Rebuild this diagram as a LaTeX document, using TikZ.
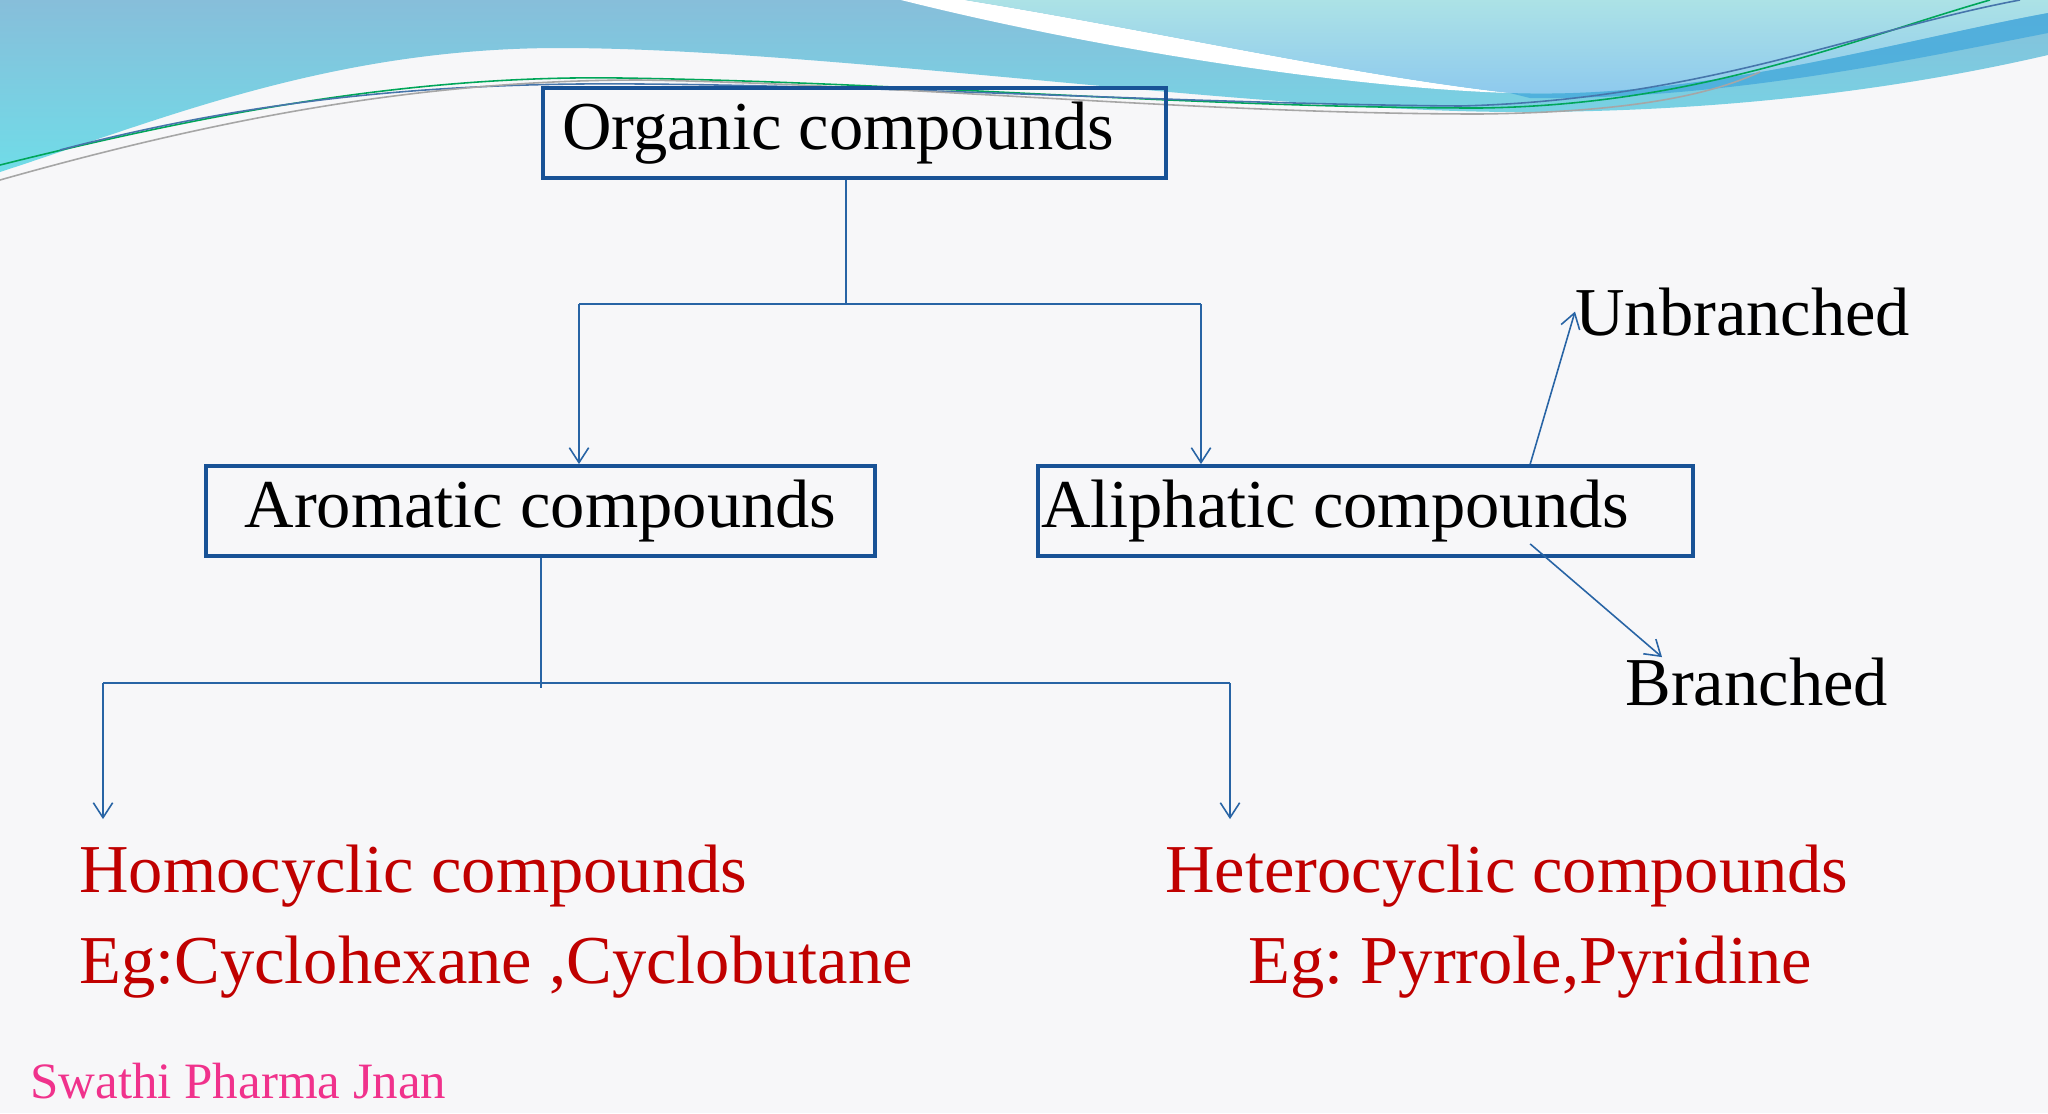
\documentclass[tikz,border=0pt]{standalone}
\usepackage{fontspec}
\setmainfont{Liberation Serif}
\usepackage{xcolor}
\usepackage{tikz}
\usetikzlibrary{arrows.meta, positioning, calc}
\frenchspacing

\definecolor{bgwhite}{RGB}{247,247,249}
\definecolor{boxblue}{RGB}{24,82,150}
\definecolor{lineblue}{RGB}{40,100,165}
\definecolor{darkred}{RGB}{192,0,0}
\definecolor{signpink}{RGB}{240,50,140}
\definecolor{waveA}{RGB}{135,190,218}
\definecolor{waveB}{RGB}{112,220,232}
\definecolor{waveC}{RGB}{172,226,230}
\definecolor{waveD}{RGB}{140,200,238}
\definecolor{waveE}{RGB}{70,170,220}

\tikzset{
  cbox/.style={draw=boxblue, line width=2.2pt, inner sep=0pt, font=\fontsize{39}{47}\selectfont},
  side/.style={inner sep=0pt, font=\fontsize{39}{47}\selectfont},
  redtxt/.style={inner sep=0pt, text=darkred, font=\fontsize{39}{47}\selectfont},
  link/.style={draw=lineblue, line width=0.9pt},
  arr/.style={link, -{Straight Barb[length=8.5pt,width=11pt]}}
}

\begin{document}
\begin{tikzpicture}[x=0.02cm, y=-0.02cm]
    \useasboundingbox (0,0) rectangle (2048,1113);
    \fill[bgwhite] (0,0) rectangle (2048,1113);

    % 顶部波浪
    \shade[top color=waveA, bottom color=waveB] (0,0) -- (0,172)
        .. controls (160,120) and (330,48) .. (560,48)
        .. controls (820,48) and (1250,112) .. (1520,112)
        .. controls (1760,112) and (1940,80) .. (2048,55) -- (2048,0) -- cycle;
    \fill[white] (901,0) .. controls (1100,50) and (1350,88) .. (1510,93)
        .. controls (1350,75) and (1150,30) .. (965,0) -- cycle;
    \shade[top color=waveC, bottom color=waveD] (965,0)
        .. controls (1150,30) and (1350,75) .. (1510,93)
        .. controls (1700,100) and (1900,40) .. (2048,13) -- (2048,0) -- cycle;
    \fill[waveE, opacity=0.8] (1510,93) .. controls (1700,100) and (1900,40) .. (2048,13)
        -- (2048,33) .. controls (1900,62) and (1720,100) .. (1530,98) -- cycle;
    \draw[teal!70!green, line width=0.9pt] (0,165) .. controls (220,110) and (420,75) .. (620,78)
        .. controls (900,82) and (1200,108) .. (1480,108)
        .. controls (1700,105) and (1850,40) .. (1990,0);
    \draw[boxblue!80, line width=0.9pt] (60,150) .. controls (250,100) and (430,82) .. (640,84)
        .. controls (900,86) and (1200,104) .. (1460,106)
        .. controls (1700,100) and (1860,30) .. (2020,0);
    \draw[gray!70, line width=0.9pt] (0,180) .. controls (230,115) and (430,80) .. (640,80)
        .. controls (900,84) and (1200,114) .. (1480,114)
        .. controls (1650,112) and (1720,90) .. (1760,72);

    % 第一层
    \node[cbox, minimum width=12.46cm, minimum height=1.8cm, inner xsep=0.38cm] (org)
        at (854.5,133) {\makebox[11.7cm][l]{Organic compounds}};

    % 第二层
    \node[cbox, minimum width=13.38cm, minimum height=1.8cm] (arom) at (540.5,511) {Aromatic compounds};
    \node[cbox, minimum width=13.1cm, minimum height=1.8cm, inner xsep=0.06cm] (aliph)
        at (1365.5,511) {\makebox[12.98cm][l]{Aliphatic compounds}};
    \coordinate (hubA) at (846,304);
    \coordinate (hubL) at (579,304);
    \coordinate (hubR) at (1201,304);
    \draw[link] (org.south -| hubA) -- (hubA);
    \draw[link] (hubL) -- (hubR);
    \draw[arr] (hubL) -- (hubL |- arom.north);
    \draw[arr] (hubR) -- (hubR |- aliph.north);

    % 脂肪族分支
    \node[side, anchor=base west] (unbr) at (1575,335) {Unbranched};
    \node[side, anchor=base west] (bran) at (1625,705) {Branched};
    \draw[arr] ($(aliph.north west)!0.75!(aliph.north east)$) -- (unbr.west);
    \draw[arr] ($(aliph.south west)!0.75!(aliph.south east)+(0,-14)$) -- ($(bran.north west)+(37,0)$);

    % 第三层
    \node[redtxt, anchor=base west] (homo) at (79,892) {Homocyclic compounds};
    \node[redtxt, anchor=base west] (homoeg) at (79,983) {Eg:Cyclohexane ,Cyclobutane};
    \node[redtxt, anchor=base west] (hetero) at (1165,892) {Heterocyclic compounds};
    \node[redtxt, anchor=base west] (heteroeg) at (1248,983) {Eg: Pyrrole,Pyridine};
    \coordinate (hubB) at (541,683);
    \coordinate (hubBL) at (103,683);
    \coordinate (hubBR) at (1230,683);
    \draw[link] (arom.south -| hubB) -- ([yshift=-0.1cm]hubB);
    \draw[link] (hubBL) -- (hubBR);
    \draw[arr, shorten >=0.5cm] (hubBL) -- (hubBL |- homo.north);
    \draw[arr, shorten >=0.5cm] (hubBR) -- (hubBR |- hetero.north);

    % 署名
    \node[inner sep=0pt, text=signpink, font=\fontsize{29}{35}\selectfont, anchor=base west] (sign) at (30,1098) {Swathi Pharma Jnan};
\end{tikzpicture}
\end{document}
